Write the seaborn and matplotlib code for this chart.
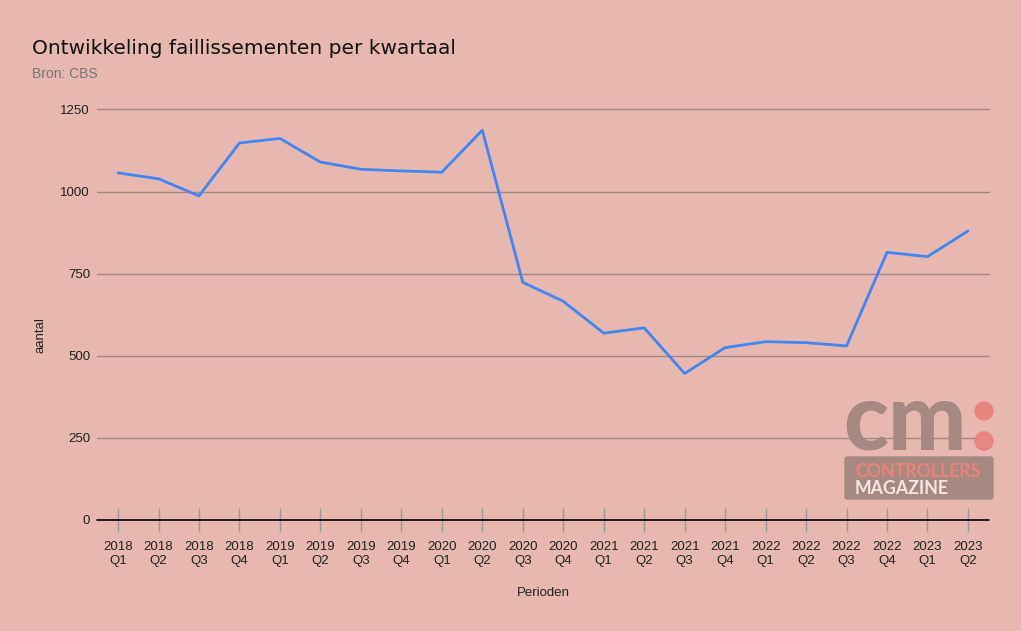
import pandas as pd
import numpy as np
import matplotlib.pyplot as plt
import seaborn as sns
from matplotlib.patches import FancyBboxPatch, Ellipse

# data
periods = ['2018\nQ1', '2018\nQ2', '2018\nQ3', '2018\nQ4',
           '2019\nQ1', '2019\nQ2', '2019\nQ3', '2019\nQ4',
           '2020\nQ1', '2020\nQ2', '2020\nQ3', '2020\nQ4',
           '2021\nQ1', '2021\nQ2', '2021\nQ3', '2021\nQ4',
           '2022\nQ1', '2022\nQ2', '2022\nQ3', '2022\nQ4',
           '2023\nQ1', '2023\nQ2']
aantal = [1057, 1039, 987, 1148, 1162, 1090, 1068, 1063, 1059, 1187,
          724, 666, 569, 585, 446, 525, 543, 540, 530, 815, 802, 880]
yticks = [0, 250, 500, 750, 1000, 1250]

bg = '#e6b8af'
sns.set_style('white', rc={'axes.facecolor': bg, 'figure.facecolor': bg})
plt.rcParams['font.family'] = ['Liberation Sans', 'DejaVu Sans']

df = pd.DataFrame({'Perioden': periods, 'aantal': aantal})

fig = plt.figure(figsize=(10.21, 6.31), dpi=100)
ax = fig.add_axes([97 / 1021, 1 - 520 / 631, 892 / 1021, 410.5 / 631])

sns.lineplot(data=df, x='Perioden', y='aantal', ax=ax, color='#4285f4',
             linewidth=2, sort=False)

ax.set_ylim(0, 1250)
ax.set_xlim(-0.52, len(periods) - 0.48)
ax.set_yticks(yticks)
ax.set_yticklabels([str(v) for v in yticks])
for v in yticks[1:]:
    ax.axhline(v, color='#a48a84', linewidth=1, zorder=0, clip_on=False)
ax.axhline(0, color='black', linewidth=1.2, zorder=1, clip_on=False)

for s in ax.spines.values():
    s.set_visible(False)

ax.tick_params(axis='y', left=False, length=0, pad=5, labelsize=9.5,
               labelcolor='#222222')
ax.tick_params(axis='x', bottom=True, direction='inout', length=17.5, width=1,
               color='#999999', pad=6.5, labelsize=9.5, labelcolor='#222222')

ax.set_xlabel('Perioden', fontsize=9.5, color='#222222', labelpad=14.5)
ax.set_ylabel('aantal', fontsize=9.5, color='#222222')
ax.yaxis.set_label_coords(-0.057, 0.45)

fig.text(32 / 1021, 1 - 53.5 / 631, 'Ontwikkeling faillissementen per kwartaal',
         fontsize=14.5, family='DejaVu Sans', color='#111111', va='baseline')
fig.text(32 / 1021, 1 - 78.3 / 631, 'Bron: CBS', fontsize=10,
         color='#777777', va='baseline')

# controllers magazine logo
W, H = 1021, 631
logo_grey = '#a68982'
fig.add_artist(FancyBboxPatch((845 / W, 1 - 499 / H), 148 / W, 42 / H,
                              boxstyle='round,pad=0,rounding_size=0.003',
                              transform=fig.transFigure, color=logo_grey, zorder=5))
fig.text(843 / W, 1 - 449 / H, 'cm', fontsize=67, family='Lato',
         fontweight='black', color=logo_grey, va='baseline', zorder=5)
for cy in (411, 441):
    fig.add_artist(Ellipse((984 / W, 1 - cy / H), 18 / W, 18 / H,
                           transform=fig.transFigure, color='#e8857e', zorder=5))
fig.text(855 / W, 1 - 477 / H, 'CONTROLLERS', fontsize=12.8, family='Lato',
         fontweight='bold', color='#ec837b', va='baseline', zorder=6)
fig.text(855 / W, 1 - 494 / H, 'MAGAZINE', fontsize=12.8, family='Lato',
         fontweight='bold', color='#f5e6e3', va='baseline', zorder=6)

fig.savefig('out.png', dpi=100, facecolor=bg)
